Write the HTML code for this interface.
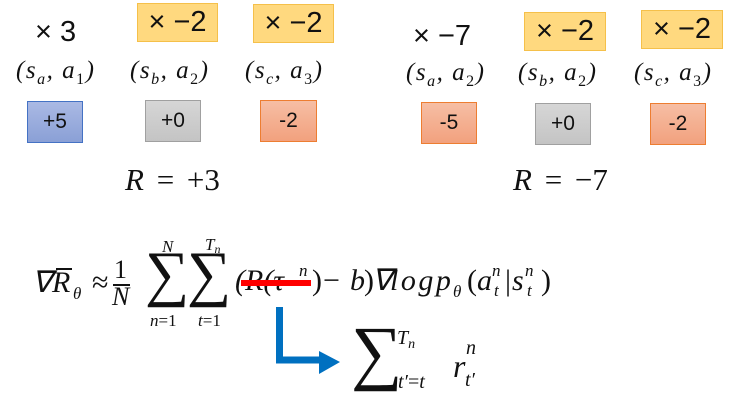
<!DOCTYPE html>
<html><head><meta charset="utf-8"><style>
body{margin:0;width:729px;height:408px;background:#fff;position:relative;overflow:hidden;font-family:"Liberation Serif",serif;color:#111}
.a{position:absolute;white-space:nowrap;line-height:1}
i{font-style:italic}
.hl{position:absolute;background:#ffd97f;border:1px solid #f5c04a;display:flex;align-items:center;justify-content:center;font-family:"Liberation Sans",sans-serif;font-size:29px;box-sizing:border-box}
.mul{font-family:"Liberation Sans",sans-serif;font-size:29px}
.pair{font-style:italic;font-size:25px;letter-spacing:1.5px}
.pair .u{font-style:normal}
sub{font-size:16px;vertical-align:-6px}
.box{position:absolute;display:flex;align-items:center;justify-content:center;font-family:"Liberation Sans",sans-serif;font-size:21px;box-sizing:border-box}
.blue{background:linear-gradient(#aab9e4,#8aa0d6);border:1px solid #4472c4}
.gray{background:linear-gradient(#d6d6d6,#c4c4c4);border:1px solid #a0a0a0}
.org{background:linear-gradient(#f6bea4,#f2a17e);border:1px solid #ed7d31}
.R{font-size:31px;word-spacing:5px}
.f{font-size:30px;font-style:italic}
.s{font-size:17px;font-style:italic}
.sig{font-size:62px}
</style></head><body>
<div class="a mul" style="left:35px;top:18px">× 3</div>
<div class="hl" style="left:137px;top:3px;width:81px;height:39px">× −2</div>
<div class="hl" style="left:253px;top:4px;width:81px;height:39px">× −2</div>
<div class="a pair" style="left:16px;top:58px">(s<sub><i>a</i></sub>, a<sub class="u">1</sub>)</div>
<div class="a pair" style="left:130px;top:58px">(s<sub><i>b</i></sub>, a<sub class="u">2</sub>)</div>
<div class="a pair" style="left:245px;top:58px">(s<sub><i>c</i></sub>, a<sub class="u">3</sub>)</div>
<div class="box blue" style="left:27px;top:101px;width:56px;height:42px">+5</div>
<div class="box gray" style="left:145px;top:100px;width:56px;height:42px">+0</div>
<div class="box org" style="left:260px;top:100px;width:57px;height:42px">-2</div>
<div class="a R" style="left:125px;top:164px"><i>R</i> = +3</div>

<div class="a mul" style="left:413px;top:22px">× −7</div>
<div class="hl" style="left:524px;top:12px;width:82px;height:39px">× −2</div>
<div class="hl" style="left:641px;top:10px;width:82px;height:39px">× −2</div>
<div class="a pair" style="left:406px;top:60px">(s<sub><i>a</i></sub>, a<sub class="u">2</sub>)</div>
<div class="a pair" style="left:518px;top:60px">(s<sub><i>b</i></sub>, a<sub class="u">2</sub>)</div>
<div class="a pair" style="left:634px;top:60px">(s<sub><i>c</i></sub>, a<sub class="u">3</sub>)</div>
<div class="box org" style="left:421px;top:102px;width:56px;height:42px">-5</div>
<div class="box gray" style="left:535px;top:103px;width:56px;height:42px">+0</div>
<div class="box org" style="left:650px;top:103px;width:56px;height:42px">-2</div>
<div class="a R" style="left:513px;top:164px"><i>R</i> = −7</div>

<!-- formula -->
<div class="a f" style="left:32px;top:268px">∇</div>
<div class="a f" style="left:52px;top:268px">R</div>
<div class="a" style="left:56px;top:268px;width:16px;height:1.5px;background:#111"></div>
<div class="a s" style="left:73px;top:285px">θ</div>
<div class="a" style="left:92px;top:268px;font-size:30px">≈</div>
<div class="a" style="left:114px;top:257px;font-size:26px">1</div>
<div class="a" style="left:113px;top:284px;width:17px;height:1.5px;background:#111"></div>
<div class="a f" style="left:112px;top:284px;font-size:26px">N</div>
<div class="a sig" style="left:145px;top:243px">∑</div>
<div class="a s" style="left:162px;top:238px">N</div>
<div class="a s" style="left:150px;top:312px"><i>n</i><span style="font-style:normal">=1</span></div>
<div class="a sig" style="left:187px;top:243px">∑</div>
<div class="a s" style="left:205px;top:236px">T<sub style="font-size:12px;vertical-align:-3px">n</sub></div>
<div class="a s" style="left:198px;top:312px">t<span style="font-style:normal">=1</span></div>

<div class="a f" style="left:235px;top:266px">(R(τ</div>
<div class="a s" style="left:299px;top:262px">n</div>
<div class="a f" style="left:312px;top:266px;font-style:normal">)</div>
<div class="a f" style="left:323px;top:266px;font-style:normal">−</div>
<div class="a f" style="left:350px;top:266px">b</div>
<div class="a f" style="left:364px;top:266px;font-style:normal">)</div>
<div class="a f" style="left:372px;top:266px">∇</div>
<div class="a f" style="left:390px;top:266px;letter-spacing:2.5px">logp</div>
<div class="a s" style="left:453px;top:283px">θ</div>
<div class="a f" style="left:467px;top:266px;font-style:normal">(</div>
<div class="a f" style="left:477px;top:266px">a</div>
<div class="a s" style="left:492px;top:262px">n</div>
<div class="a s" style="left:494px;top:282px">t</div>
<div class="a f" style="left:505px;top:266px;font-style:normal">|</div>
<div class="a f" style="left:512px;top:266px">s</div>
<div class="a s" style="left:525px;top:262px">n</div>
<div class="a s" style="left:527px;top:282px">t</div>
<div class="a f" style="left:541px;top:266px;font-style:normal">)</div>
<div class="a" style="left:241px;top:280px;width:70px;height:6px;background:#ff0000"></div>

<svg class="a" style="left:0;top:0" width="729" height="408">
<path d="M279.5 307 V360 H322" fill="none" stroke="#0070c0" stroke-width="7"/>
<polygon points="319,351 340,362 319,374" fill="#0070c0"/>
</svg>
<div class="a" style="left:351px;top:316px;font-size:72px">∑</div>
<div class="a" style="left:397px;top:328px;font-size:20px;font-style:italic">T<sub style="font-size:14px;vertical-align:-4px">n</sub></div>
<div class="a" style="left:398px;top:372px;font-size:20px;font-style:italic">t′<span style="font-style:normal">=</span>t</div>
<div class="a f" style="left:453px;top:350px;font-size:32px">r</div>
<div class="a" style="left:466px;top:338px;font-size:20px;font-style:italic">n</div>
<div class="a" style="left:465px;top:370px;font-size:20px;font-style:italic">t′</div>
</body></html>
